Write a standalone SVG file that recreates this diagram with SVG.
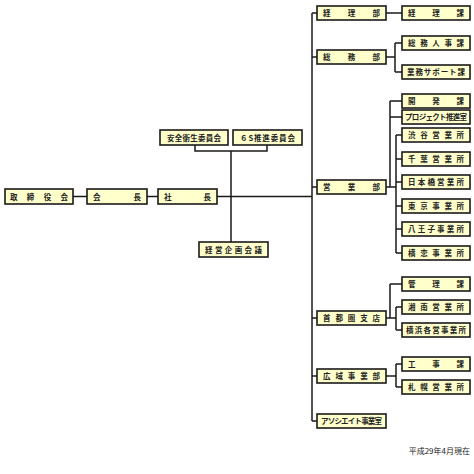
<svg xmlns="http://www.w3.org/2000/svg" width="474" height="474" viewBox="0 0 474 474">
<style>
.b{fill:#ffffcc;stroke:#1a1a1a;stroke-width:1.6}
.t{font-family:"Noto Sans CJK JP","Noto Sans",sans-serif;font-size:7.5px;font-weight:bold;fill:#222}
.c{fill:none;stroke:#1a1a1a;stroke-width:1.5}
</style>
<rect width="474" height="474" fill="#fff"/>
<g id="connectors" class="c">
<path d="M73,196.5H88M146,196.5H158M217,196.5H312"/>
<path d="M195,145V151H267V145M231,151V242"/>
<path d="M312,13V421M312,13H317M312,57H317M312,187H317M312,318H317M312,376H317M312,421H317"/>
<path d="M386,13H402"/>
<path d="M386,57H395M395,43V72M395,43H402M395,72H402"/>
<path d="M386,187H396M390,101V187M390,101H402M390,117H402M396,135V253M396,135H402M396,159H402M396,182H402M396,206H402M396,229H402M396,253H402"/>
<path d="M386,318H396M390,284V318M390,284H402M396,307V330M396,307H402M396,330H402"/>
<path d="M386,376H396M396,364V387M396,364H402M396,387H402"/>
</g>
<g id="torishimariyakukai"><rect class="b" x="5" y="189" width="68" height="15"/><text class="t" x="10" y="199.5" textLength="58" lengthAdjust="spacing">取締役会</text></g>
<g id="kaicho"><rect class="b" x="87" y="189" width="60" height="15"/><text class="t" x="93" y="199.5" textLength="48" lengthAdjust="spacing">会長</text></g>
<g id="shacho"><rect class="b" x="158" y="189" width="59" height="15"/><text class="t" x="164" y="199.5" textLength="47" lengthAdjust="spacing">社長</text></g>
<g id="anzen"><rect class="b" x="160" y="130" width="68" height="15"/><text class="t" x="167" y="140.5" textLength="54" lengthAdjust="spacing">安全衛生委員会</text></g>
<g id="six-s"><rect class="b" x="233" y="130" width="69" height="15"/><text class="t" x="240" y="140.5" textLength="55" lengthAdjust="spacing">６S推進委員会</text></g>
<g id="keiei-kikaku"><rect class="b" x="199" y="242" width="69" height="15"/><text class="t" x="205" y="252.5" textLength="57" lengthAdjust="spacing">経営企画会議</text></g>

<g id="keiri-bu"><rect class="b" x="317" y="6" width="69" height="14"/><text class="t" x="323" y="15.8" textLength="57" lengthAdjust="spacing">経理部</text></g>
<g id="somu-bu"><rect class="b" x="317" y="50" width="69" height="14"/><text class="t" x="323" y="59.8" textLength="57" lengthAdjust="spacing">総務部</text></g>
<g id="eigyo-bu"><rect class="b" x="317" y="180" width="69" height="14"/><text class="t" x="323" y="189.8" textLength="57" lengthAdjust="spacing">営業部</text></g>
<g id="shutoken"><rect class="b" x="317" y="311" width="69" height="14"/><text class="t" x="323" y="320.8" textLength="57" lengthAdjust="spacing">首都圏支店</text></g>
<g id="koiki"><rect class="b" x="317" y="369" width="69" height="14"/><text class="t" x="323" y="378.8" textLength="57" lengthAdjust="spacing">広域事業部</text></g>
<g id="associate"><rect class="b" x="317" y="414" width="69" height="14"/><text class="t" x="321" y="423.8" textLength="61" lengthAdjust="spacing">アソシエイト事業室</text></g>

<g id="keiri-ka"><rect class="b" x="402" y="6" width="68" height="14"/><text class="t" x="408" y="15.8" textLength="56" lengthAdjust="spacing">経理課</text></g>
<g id="somujinji"><rect class="b" x="402" y="36" width="68" height="14"/><text class="t" x="408" y="45.8" textLength="56" lengthAdjust="spacing">総務人事課</text></g>
<g id="gyomu-support"><rect class="b" x="402" y="65" width="68" height="14"/><text class="t" x="407" y="74.8" textLength="58" lengthAdjust="spacing">業務サポート課</text></g>
<g id="kaihatsu"><rect class="b" x="402" y="94" width="68" height="14"/><text class="t" x="408" y="103.8" textLength="56" lengthAdjust="spacing">開発課</text></g>
<g id="project"><rect class="b" x="402" y="110" width="68" height="14"/><text class="t" x="405" y="119.8" textLength="62" lengthAdjust="spacing">プロジェクト推進室</text></g>
<g id="shibuya"><rect class="b" x="402" y="128" width="68" height="14"/><text class="t" x="408" y="137.8" textLength="56" lengthAdjust="spacing">渋谷営業所</text></g>
<g id="chiba"><rect class="b" x="402" y="152" width="68" height="14"/><text class="t" x="408" y="161.8" textLength="56" lengthAdjust="spacing">千葉営業所</text></g>
<g id="nihonbashi"><rect class="b" x="402" y="175" width="68" height="14"/><text class="t" x="408" y="184.8" textLength="56" lengthAdjust="spacing">日本橋営業所</text></g>
<g id="tokyo"><rect class="b" x="402" y="199" width="68" height="14"/><text class="t" x="408" y="208.8" textLength="56" lengthAdjust="spacing">東京事業所</text></g>
<g id="hachioji"><rect class="b" x="402" y="222" width="68" height="14"/><text class="t" x="408" y="231.8" textLength="56" lengthAdjust="spacing">八王子事業所</text></g>
<g id="yokokoi"><rect class="b" x="402" y="246" width="68" height="14"/><text class="t" x="408" y="255.8" textLength="56" lengthAdjust="spacing">横恋事業所</text></g>
<g id="kanri"><rect class="b" x="402" y="277" width="68" height="14"/><text class="t" x="408" y="286.8" textLength="56" lengthAdjust="spacing">管理課</text></g>
<g id="shonan"><rect class="b" x="402" y="300" width="68" height="14"/><text class="t" x="408" y="309.8" textLength="56" lengthAdjust="spacing">湘南営業所</text></g>
<g id="yokohama"><rect class="b" x="402" y="323" width="68" height="14"/><text class="t" x="406" y="332.8" textLength="60" lengthAdjust="spacing">横浜各営事業所</text></g>
<g id="koji"><rect class="b" x="402" y="357" width="68" height="14"/><text class="t" x="408" y="366.8" textLength="56" lengthAdjust="spacing">工事課</text></g>
<g id="sapporo"><rect class="b" x="402" y="380" width="68" height="14"/><text class="t" x="408" y="389.8" textLength="56" lengthAdjust="spacing">札幌営業所</text></g>

<text x="470" y="454" text-anchor="end" style="font-family:'Noto Sans CJK JP','Noto Sans',sans-serif;font-size:8px;fill:#222">平成29年4月現在</text>
</svg>
